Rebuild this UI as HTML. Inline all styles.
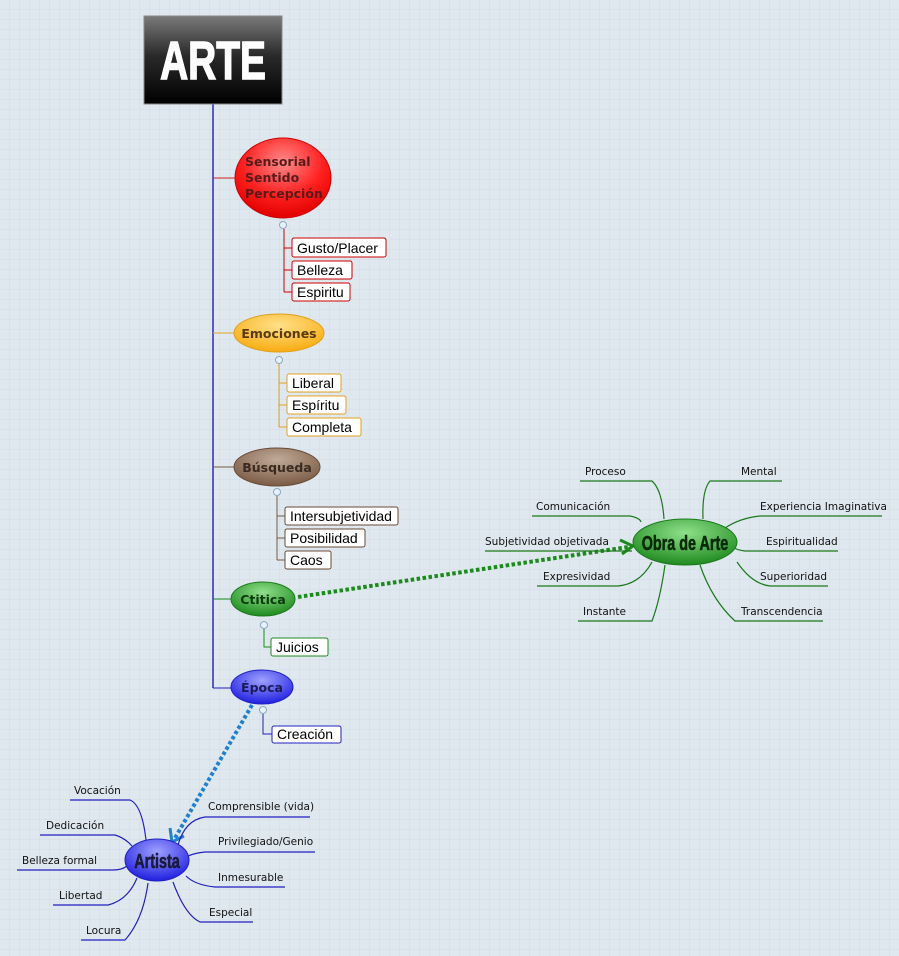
<!DOCTYPE html>
<html><head><meta charset="utf-8"><style>
html,body{margin:0;padding:0;width:899px;height:956px;overflow:hidden;background:#dfe7ef}
svg{display:block;font-family:"DejaVu Sans","Liberation Sans",sans-serif}
</style></head><body>
<svg width="899" height="956" viewBox="0 0 899 956" xmlns="http://www.w3.org/2000/svg">
<defs>
<pattern id="g" width="10" height="10" patternUnits="userSpaceOnUse"><path d="M10 0V10H0" fill="none" stroke="#d3dde6" stroke-width="1"/></pattern>
<linearGradient id="blk" x1="0" y1="0" x2="0" y2="1"><stop offset="0" stop-color="#7a7a7a"/><stop offset="0.45" stop-color="#2a2a2a"/><stop offset="1" stop-color="#000"/></linearGradient>
<radialGradient id="red" cx="0.5" cy="0.3" r="0.7"><stop offset="0" stop-color="#ff8a8a"/><stop offset="0.6" stop-color="#ff2020"/><stop offset="1" stop-color="#e00000"/></radialGradient>
<radialGradient id="org" cx="0.5" cy="0.3" r="0.7"><stop offset="0" stop-color="#ffe08a"/><stop offset="1" stop-color="#f8ac10"/></radialGradient>
<radialGradient id="brn" cx="0.5" cy="0.3" r="0.7"><stop offset="0" stop-color="#c0aa98"/><stop offset="1" stop-color="#7a5a45"/></radialGradient>
<radialGradient id="grn" cx="0.5" cy="0.3" r="0.7"><stop offset="0" stop-color="#8ee08a"/><stop offset="1" stop-color="#1f8a1f"/></radialGradient>
<radialGradient id="blu" cx="0.5" cy="0.3" r="0.7"><stop offset="0" stop-color="#9ea0ff"/><stop offset="1" stop-color="#2020e0"/></radialGradient>
</defs>
<rect width="899" height="956" fill="url(#g)"/>

<line x1="213" y1="104" x2="213" y2="688" stroke="#2a2ab8" stroke-width="1.5"/>
<line x1="213" y1="178" x2="236" y2="178" stroke="#d02020"/>
<line x1="213" y1="333" x2="235" y2="333" stroke="#e0a020"/>
<line x1="213" y1="467" x2="234" y2="467" stroke="#7a5a45"/>
<line x1="213" y1="599" x2="232" y2="599" stroke="#1f8a1f"/>
<line x1="213" y1="688" x2="231" y2="688" stroke="#2020c0"/>

<rect x="144" y="16" width="138" height="88" fill="url(#blk)" stroke="#888"/>
<text transform="translate(213 79) scale(0.72 1)" text-anchor="middle" font-family="Liberation Sans,sans-serif" font-weight="bold" font-size="54" fill="#fff" stroke="#fff" stroke-width="1.5">ARTE</text>

<ellipse cx="283" cy="178" rx="48" ry="40" fill="url(#red)" stroke="#c00" />
<text font-size="12.5" font-weight="bold" fill="#5a1a1a"><tspan x="245" y="166">Sensorial</tspan><tspan x="245" y="182">Sentido</tspan><tspan x="245" y="198">Percepción</tspan></text>
<circle cx="283" cy="225" r="3.5" fill="#e8f0ff" stroke="#8ab"/>
<path d="M284 229V292M284 248H292M284 270H292M284 292H292" stroke="#c00" fill="none"/>
<g font-size="14" fill="#000" font-family="Liberation Sans,sans-serif">
<rect x="292" y="238" width="94" height="19" rx="2" fill="#fff" stroke="#c00"/><text x="297" y="253">Gusto/Placer</text>
<rect x="292" y="261" width="60" height="18" rx="2" fill="#fff" stroke="#c00"/><text x="297" y="275">Belleza</text>
<rect x="292" y="283" width="58" height="18" rx="2" fill="#fff" stroke="#c00"/><text x="297" y="297">Espiritu</text>
</g>

<ellipse cx="279" cy="333" rx="45" ry="19" fill="url(#org)" stroke="#e0a020"/>
<text x="279" y="338" text-anchor="middle" font-size="12.5" font-weight="bold" fill="#5a3a10">Emociones</text>
<circle cx="279" cy="360" r="3.5" fill="#e8f0ff" stroke="#8ab"/>
<path d="M279 364V427M279 383H287M279 405H287M279 427H287" stroke="#e0a020" fill="none"/>
<g font-size="14" fill="#000" font-family="Liberation Sans,sans-serif">
<rect x="287" y="374" width="54" height="18" rx="2" fill="#fff" stroke="#e0a020"/><text x="292" y="388">Liberal</text>
<rect x="287" y="396" width="59" height="18" rx="2" fill="#fff" stroke="#e0a020"/><text x="292" y="410">Espíritu</text>
<rect x="287" y="418" width="74" height="18" rx="2" fill="#fff" stroke="#e0a020"/><text x="292" y="432">Completa</text>
</g>

<ellipse cx="277" cy="467" rx="43" ry="19" fill="url(#brn)" stroke="#6a4a35"/>
<text x="277" y="472" text-anchor="middle" font-size="12.5" font-weight="bold" fill="#3a2a20">Búsqueda</text>
<circle cx="277" cy="492" r="3.5" fill="#e8f0ff" stroke="#8ab"/>
<path d="M277 496V560M277 516H285M277 538H285M277 560H285" stroke="#7a5a45" fill="none"/>
<g font-size="14" fill="#000" font-family="Liberation Sans,sans-serif">
<rect x="285" y="507" width="113" height="18" rx="2" fill="#fff" stroke="#6a4a35"/><text x="290" y="521">Intersubjetividad</text>
<rect x="285" y="529" width="80" height="18" rx="2" fill="#fff" stroke="#6a4a35"/><text x="290" y="543">Posibilidad</text>
<rect x="285" y="551" width="46" height="18" rx="2" fill="#fff" stroke="#6a4a35"/><text x="290" y="565">Caos</text>
</g>

<ellipse cx="263" cy="599" rx="32" ry="17" fill="url(#grn)" stroke="#1a7a1a"/>
<text x="263" y="604" text-anchor="middle" font-size="12.5" font-weight="bold" fill="#0a3a0a">Ctitica</text>
<circle cx="264" cy="625" r="3.5" fill="#e8f0ff" stroke="#8ab"/>
<path d="M264 629V647H271" stroke="#1f8a1f" fill="none"/>
<rect x="271" y="638" width="57" height="18" rx="2" fill="#fff" stroke="#1f8a1f"/><text x="276" y="652" font-size="14" font-family="Liberation Sans,sans-serif">Juicios</text>

<ellipse cx="262" cy="687" rx="31" ry="17" fill="url(#blu)" stroke="#2020c0"/>
<text x="262" y="692" text-anchor="middle" font-size="12.5" font-weight="bold" fill="#1a1a5a">Época</text>
<circle cx="263" cy="710" r="3.5" fill="#e8f0ff" stroke="#8ab"/>
<path d="M263 714V734H272" stroke="#2020c0" fill="none"/>
<rect x="272" y="726" width="69" height="17" rx="2" fill="#fff" stroke="#2020c0"/><text x="277" y="739" font-size="14" font-family="Liberation Sans,sans-serif">Creación</text>

<line x1="298" y1="597" x2="628" y2="547" stroke="#1a8a1a" stroke-width="4" stroke-dasharray="3.5 2.5"/>
<path d="M620 540L633 546L622 554" stroke="#1a8a1a" stroke-width="3" fill="none"/>
<line x1="252" y1="705" x2="175" y2="838" stroke="#2080d0" stroke-width="4" stroke-dasharray="3.5 2.5"/>
<path d="M170 828L172 842L184 836" stroke="#2080d0" stroke-width="3" fill="none"/>

<g stroke="#1a7a1a" fill="none" stroke-width="1.2">
<path d="M580 481H652Q662 490 664 519"/>
<path d="M532 516H630Q640 518 641 522"/>
<path d="M485 551H632"/>
<path d="M537 586H618Q640 584 652 562"/>
<path d="M578 621H652Q660 600 665 565"/>
<path d="M782 481H710Q702 490 703 519"/>
<path d="M882 516H760Q740 518 725 528"/>
<path d="M838 551H745Q737 550 735 548"/>
<path d="M828 586H770Q752 584 737 562"/>
<path d="M823 621H735Q712 600 700 565"/>
</g>
<ellipse cx="685" cy="542" rx="52" ry="23" fill="url(#grn)" stroke="#1a7a1a"/>
<text transform="translate(685 550) scale(0.72 1)" text-anchor="middle" font-family="Liberation Sans,sans-serif" font-weight="bold" font-size="20" fill="#0a2a0a" stroke="#0a2a0a" stroke-width="0.6">Obra de Arte</text>
<g font-size="10.5" fill="#111">
<text x="585" y="475">Proceso</text>
<text x="536" y="510">Comunicación</text>
<text x="485" y="545">Subjetividad objetivada</text>
<text x="543" y="580">Expresividad</text>
<text x="583" y="615">Instante</text>
<text x="741" y="475">Mental</text>
<text x="760" y="510">Experiencia Imaginativa</text>
<text x="766" y="545">Espiritualidad</text>
<text x="760" y="580">Superioridad</text>
<text x="741" y="615">Transcendencia</text>
</g>

<g stroke="#2020c0" fill="none" stroke-width="1.2">
<path d="M70 800H130Q142 805 146 840"/>
<path d="M40 835H115Q125 838 132 846"/>
<path d="M17 870H113Q122 870 127 866"/>
<path d="M53 905H108Q128 900 137 878"/>
<path d="M81 940H125Q143 920 148 883"/>
<path d="M310 817H205Q185 820 178 845"/>
<path d="M315 852H205Q195 853 188 856"/>
<path d="M285 887H215Q195 885 186 876"/>
<path d="M253 922H200Q185 915 173 882"/>
</g>
<ellipse cx="157" cy="860" rx="32" ry="21" fill="url(#blu)" stroke="#2020c0"/>
<text transform="translate(157 868) scale(0.72 1)" text-anchor="middle" font-family="Liberation Sans,sans-serif" font-weight="bold" font-size="20" fill="#1a1a3a" stroke="#1a1a3a" stroke-width="0.6">Artista</text>
<g font-size="10.5" fill="#111">
<text x="74" y="794">Vocación</text>
<text x="46" y="829">Dedicación</text>
<text x="22" y="864">Belleza formal</text>
<text x="59" y="899">Libertad</text>
<text x="86" y="934">Locura</text>
<text x="208" y="810">Comprensible (vida)</text>
<text x="218" y="845">Privilegiado/Genio</text>
<text x="218" y="881">Inmesurable</text>
<text x="209" y="916">Especial</text>
</g>
</svg>
</body></html>
